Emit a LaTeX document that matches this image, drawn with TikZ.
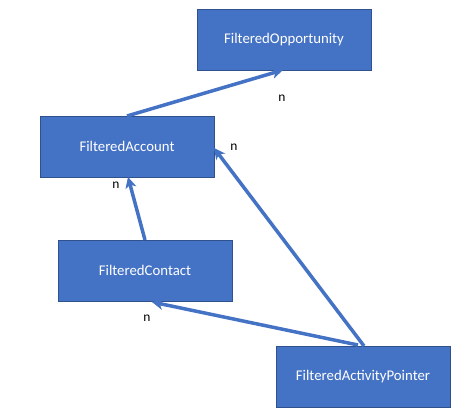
\documentclass[tikz,border=0pt]{standalone}
\usepackage{fontspec}
\setmainfont{Carlito}
\usetikzlibrary{arrows.meta}
\definecolor{boxfill}{HTML}{4472C4}
\definecolor{boxedge}{HTML}{2F528F}
\begin{document}
\begin{tikzpicture}[x=1pt,y=-1pt,
  entity/.style={draw=boxedge, line width=0.8pt, fill=boxfill, text=white, font=\fontsize{14.8}{17}\selectfont, minimum width=174pt, minimum height=61pt, inner sep=0pt},
  rel/.style={draw=boxfill, line width=3.5pt, -{Stealth[length=11pt,width=11pt,inset=3pt]}},
  card/.style={font=\fontsize{13.5}{15}\selectfont, text=black, inner sep=0pt}]
\useasboundingbox (0,0) rectangle (474,412);
\node[entity] (opp) at (284,39.5) {FilteredOpportunity};
\node[entity] (acc) at (127,146.5) {FilteredAccount};
\node[entity] (con) at (145,270.5) {FilteredContact};
\node[entity] (act) at (363,376.5) {FilteredActivityPointer};
\coordinate (accTop) at (127,116);
\coordinate (oppBot) at (283,70);
\coordinate (conTop) at (145,240);
\coordinate (accBot) at (128,177);
\coordinate (actTopA) at (364,346);
\coordinate (accRight) at (214,148);
\coordinate (actTopB) at (358,345);
\coordinate (conBot) at (152,302);
\draw[rel] (accTop) -- (oppBot);
\draw[rel] (conTop) -- (accBot);
\draw[rel] (actTopA) -- (accRight);
\draw[rel] (actTopB) -- (conBot);
\node[card] (n1) at (282,98) {n};
\node[card] (n2) at (234,147) {n};
\node[card] (n3) at (116,185) {n};
\node[card] (n4) at (147,318) {n};
\end{tikzpicture}
\end{document}
